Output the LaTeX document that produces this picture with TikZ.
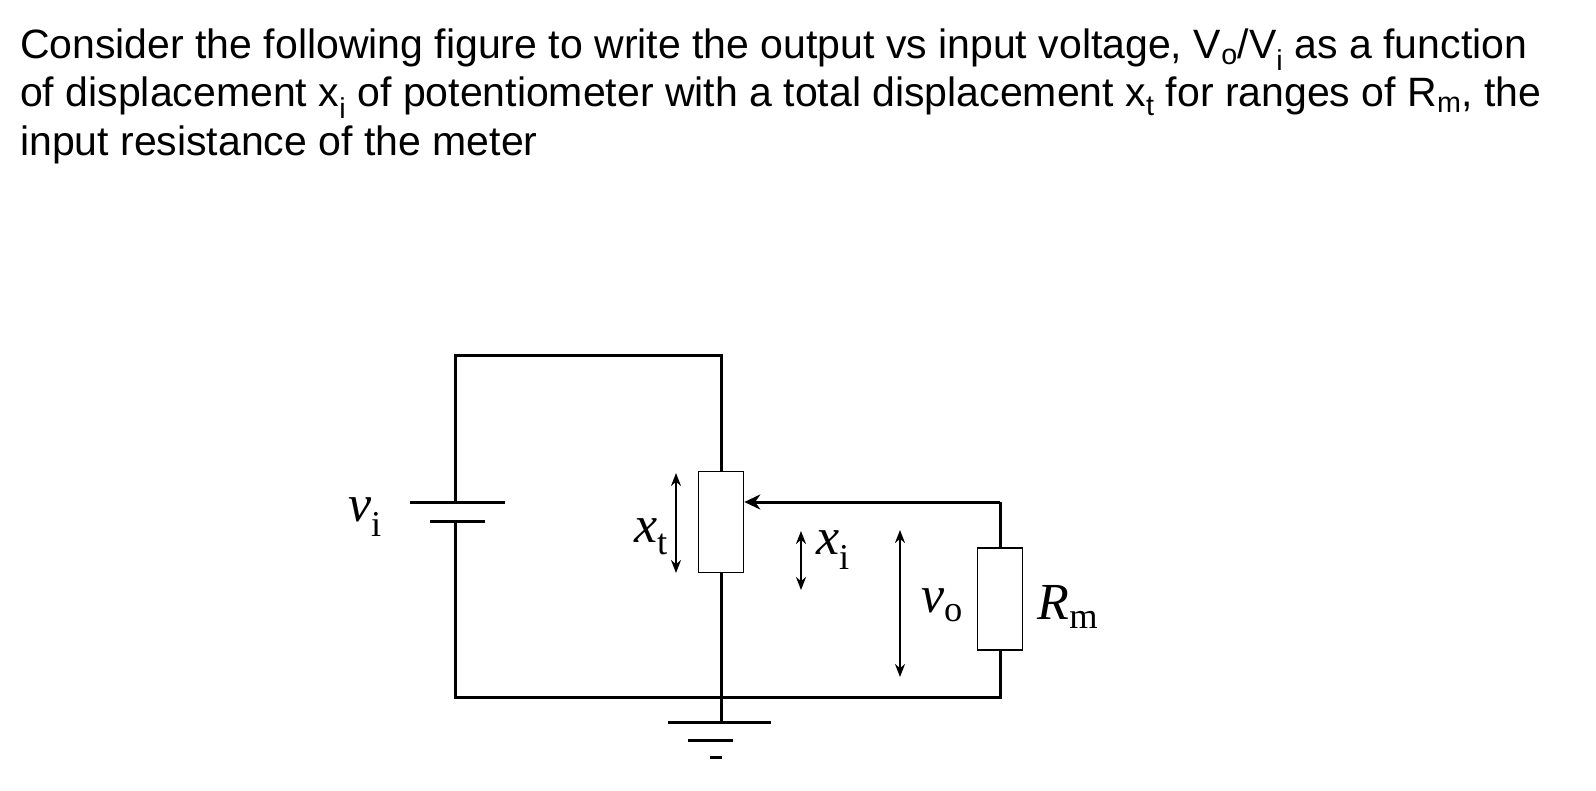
\documentclass[tikz,border=0pt]{standalone}
\usepackage{fontspec}
\usetikzlibrary{arrows.meta}
\setmainfont{Liberation Sans}
\newfontfamily\serifm{Liberation Serif}
\begin{document}
\begin{tikzpicture}[x=1pt,y=-1pt,
  wire/.style={line width=3pt},
  res/.style={draw,line width=1.6pt,fill=white,minimum width=45pt,minimum height=101pt,inner sep=0},
  dim/.style={line width=2.4pt,{Stealth[length=13pt,width=10pt]}-{Stealth[length=13pt,width=10pt]}},
  lab/.style={font=\serifm\fontsize{52}{52}\selectfont\itshape},
  txt/.style={anchor=base west,inner sep=0,font=\fontsize{41}{41}\selectfont}]
\useasboundingbox (0,0) rectangle (1596,790);
\node[txt] (t1) at (20,58) {Consider the following figure to write the output vs input voltage, V\textsubscript{o}/V\textsubscript{i} as a function};
\node[txt] (t2) at (20,106) {of displacement x\textsubscript{i} of potentiometer with a total displacement x\textsubscript{t} for ranges of R\textsubscript{m}, the};
\node[txt] (t3) at (20,155) {input resistance of the meter};
% nodes
\node[res] (pot) at (721,522) {};
\node[res,minimum height=102pt] (rm) at (1000,599) {};
\coordinate (tl) at (455,355);
\coordinate (tr) at (721,355);
\coordinate (bl) at (455,697);
\coordinate (bm) at (721,697);
\coordinate (br) at (1000,697);
\coordinate (wr) at (1000,502);
\coordinate (bp) at (455,502);
\coordinate (bn) at (455,521);
\coordinate (g) at (721,722);
% wires
\draw[wire] (bp) -- (tl) -- (tr) -- (pot.north);
\draw[wire] (bn) -- (bl) -- (bm) -- (br) -- (rm.south);
\draw[wire] (pot.south) -- (g);
\draw[wire] (rm.north) -- (wr);
\draw[wire,-{Stealth[length=16pt,width=15pt]}] (wr) -- (pot.east |- wr);
% battery
\draw[wire] (410,502) -- (505,502);
\draw[wire] (430,521) -- (485,521);
% ground
\draw[wire] (668,722) -- (771,722);
\draw[wire] (688,740) -- (733,740);
\draw[wire] (710,757) -- (722,757);
% dims
\draw[dim] (676,473) -- (676,573);
\draw[dim] (801,531) -- (801,590);
\draw[dim] (900,530) -- (900,677);
% labels
\node[lab] (vi) at (365,517) {v\textsubscript{\upshape i}};
\node[lab] (xt) at (651,537) {x\textsubscript{\upshape t}};
\node[lab] (xi) at (833,550) {x\textsubscript{\upshape i}};
\node[lab] (vo) at (942,605) {v\textsubscript{\upshape o}};
\node[lab] (rml) at (1068,607) {R\textsubscript{\upshape m}};
\end{tikzpicture}
\end{document}
